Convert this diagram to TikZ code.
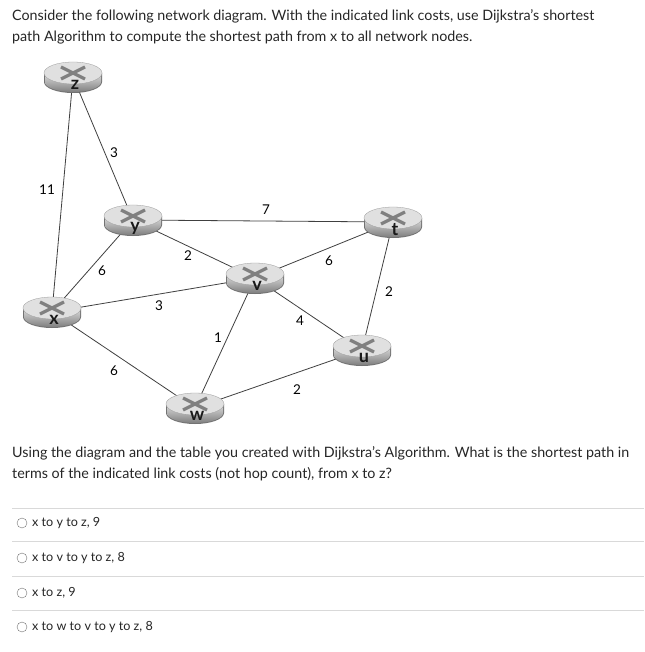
\documentclass[tikz,border=0pt]{standalone}
\usepackage{fontspec}
\setmainfont{Lato}
\usetikzlibrary{calc}
\begin{document}
\begin{tikzpicture}[x=1pt,y=-1pt,
  txt/.style={anchor=base west,inner sep=0,font=\fontsize{14.3}{16}\selectfont,text=black!85},
  otxt/.style={anchor=west,inner sep=0,font=\fontsize{12.6}{15}\selectfont,text=black!85},
  lbl/.style={font=\fontsize{13.5}{16}\selectfont,inner sep=1},
  rl/.style={font=\fontsize{18}{20}\selectfont\bfseries,text=black!90,inner sep=0},
  edge/.style={draw=black!75,line width=0.8pt},
  sep/.style={draw=black!15,line width=0.8pt},
  opt/.style={circle,draw=black!55,minimum size=10pt,inner sep=0}]
\useasboundingbox (0,0) rectangle (644,652);
\fill[white] (0,0) rectangle (644,652);
\newcommand{\router}[3]{%
  \begin{scope}[shift={(#1)}]
   \fill[black!55] (-29,-4) -- (-29,5) arc[start angle=180,end angle=0,x radius=29,y radius=11] -- (29,-4) -- cycle;
   \shade[top color=black!15,bottom color=black!50] (-28,-3) -- (-28,5) arc[start angle=180,end angle=0,x radius=28,y radius=10] -- (28,-3) -- cycle;
   \fill[black!12,draw=black!40,line width=0.3pt] (0,-4) ellipse[x radius=29,y radius=11];
   \draw[black!50,line width=3.2pt] (-12,-10) -- (12,2) (-12,2) -- (12,-10);
  \end{scope}
  \node[inner sep=0] (#2) at (#1) {};
  \node[rl] at ($(#1)+(2,8)$) {#3};}
\coordinate (Z) at (73,77); \coordinate (Y) at (133,220); \coordinate (T) at (393,222);
\coordinate (V) at (255,278); \coordinate (X) at (52,312); \coordinate (U) at (362,350);
\coordinate (W) at (195,408);
\draw[edge] (Z) -- (X) (Z) -- (Y) (Y) -- (T) (Y) -- (V) (Y) -- (X) (X) -- (V) (V) -- (T)
 (T) -- (U) (V) -- (U) (V) -- (W) (X) -- (W) (W) -- (U);
\router{Z}{z}{z}\router{Y}{y}{y}\router{T}{t}{t}\router{V}{v}{v}
\router{X}{x}{x}\router{U}{u}{u}\router{W}{w}{w}
\node[lbl] at (114,153) {3}; \node[lbl] at (47,190) {11}; \node[lbl] at (266,210) {7};
\node[lbl] at (188,256) {2}; \node[lbl] at (102,271) {6}; \node[lbl] at (329,261) {6};
\node[lbl] at (389,292) {2}; \node[lbl] at (159,306) {3}; \node[lbl] at (300,321) {4};
\node[lbl] at (218,338) {1}; \node[lbl] at (114,371) {6}; \node[lbl] at (297,390) {2};
\node[txt] (q1) at (12,21) {Consider the following network diagram. With the indicated link costs, use Dijkstra's shortest};
\node[txt] (q2) at (12,42) {path Algorithm to compute the shortest path from x to all network nodes.};
\node[txt] (q3) at (12,457) {Using the diagram and the table you created with Dijkstra's Algorithm. What is the shortest path in};
\node[txt] (q4) at (12,478) {terms of the indicated link costs (not hop count), from x to z?};
\draw[sep] (12,508) -- (644,508) (12,541) -- (644,541) (12,576) -- (644,576) (12,610) -- (644,610);
\node[opt] (c1) at (22,523) {}; \node[otxt] (o1) at (32,523) {x to y to z, 9};
\node[opt] (c2) at (22,558) {}; \node[otxt] (o2) at (32,558) {x to v to y to z, 8};
\node[opt] (c3) at (22,593) {}; \node[otxt] (o3) at (32,593) {x to z, 9};
\node[opt] (c4) at (22,627) {}; \node[otxt] (o4) at (32,627) {x to w to v to y to z, 8};
\end{tikzpicture}
\end{document}
